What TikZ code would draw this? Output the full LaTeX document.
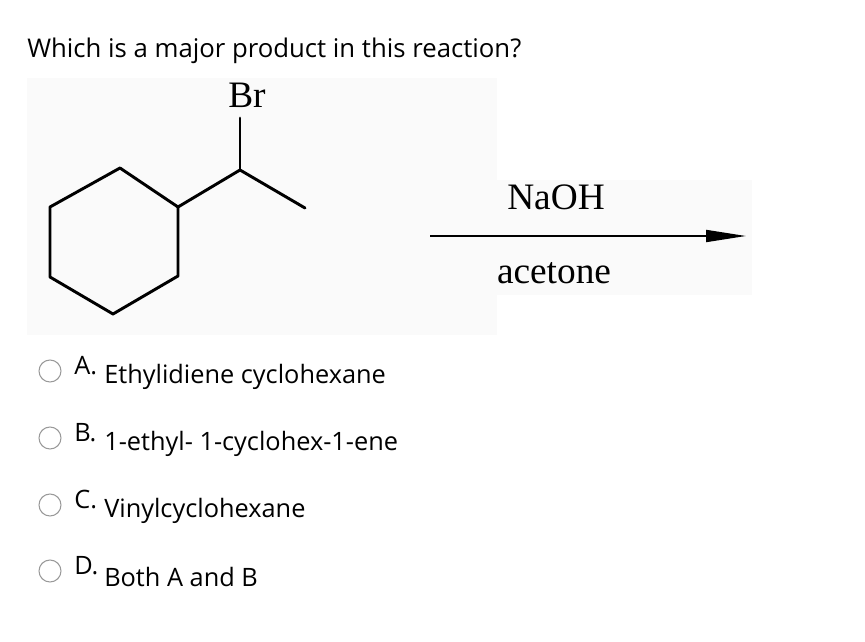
\documentclass[tikz,border=0pt]{standalone}
\usepackage{fontspec}
\setmainfont{Open Sans}
\newfontfamily\chem{Liberation Serif}
\usetikzlibrary{arrows.meta}
\begin{document}
\begin{tikzpicture}[x=0.75pt,y=-0.75pt,
  bond/.style={line width=2.2pt,line cap=round,line join=round},
  opt/.style={draw=gray!80,line width=0.8pt},
  q/.style={font=\fontsize{19.3}{21}\selectfont,anchor=west,inner sep=0pt},
  lbl/.style={font=\fontsize{19}{21}\selectfont,anchor=west,inner sep=0pt},
  chemlbl/.style={font=\chem\fontsize{28}{30}\selectfont,inner sep=0pt}]
\useasboundingbox (0,0) rectangle (865,642);
\fill[black!2] (27,78) rectangle (497,335);
\fill[black!2] (420,180) rectangle (752,295);
\node[q] (title) at (27,51) {Which is a major product in this reaction?};
\coordinate (h1) at (120,168);
\coordinate (h2) at (178,207);
\coordinate (h3) at (178,276);
\coordinate (h4) at (113,314);
\coordinate (h5) at (50,277);
\coordinate (h6) at (50,207);
\coordinate (c1) at (240,170);
\coordinate (c2) at (240,118);
\coordinate (c3) at (305,208);
\draw[bond] (h1)--(h2)--(h3)--(h4)--(h5)--(h6)--cycle;
\draw[bond] (h2)--(c1)--(c3);
\draw[bond] (c1)--(c2);
\node[chemlbl] (br) at (247,95) {Br};
\coordinate (a1) at (430,236);
\coordinate (a2) at (746,236);
\draw[line width=1.4pt,-{Triangle[length=30pt,width=9pt]}] (a1)--(a2);
\node[chemlbl] (naoh) at (556,197) {NaOH};
\node[chemlbl] (acet) at (554,273) {acetone};
\foreach \y/\l/\t/\n in {371/A./Ethylidiene cyclohexane/a,438/B./1-ethyl- 1-cyclohex-1-ene/b,505/C./Vinylcyclohexane/c,571/D./Both A and B/d}{
  \draw[opt] (50,\y) circle (11);
  \node[lbl] (l\n) at (74,\y-5) {\l};
  \node[lbl] (t\n) at (104,\y+6) {\t};
}
\end{tikzpicture}
\end{document}
